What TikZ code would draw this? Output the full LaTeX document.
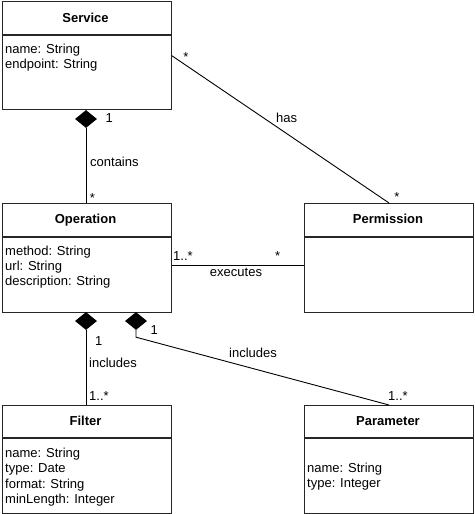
\documentclass[tikz,border=0pt]{standalone}
\usepackage{fontspec}
\setmainfont{Liberation Sans}
\usetikzlibrary{shapes.geometric,calc}
\begin{document}
\begin{tikzpicture}[x=1pt,y=-1pt,
  classbox/.style={draw=black!85, line width=1.1pt, inner sep=0, anchor=north west, minimum width=169pt},
  divline/.style={draw=black!85, line width=1.1pt},
  conn/.style={draw=black, line width=0.9pt},
  agg/.style={diamond, fill=black, draw=none, inner sep=0, minimum width=22pt, minimum height=18pt},
  txt/.style={inner sep=0, font=\fontsize{13}{15}\selectfont},
  ttl/.style={inner sep=0, anchor=base, font=\fontsize{13}{15}\selectfont\bfseries},
  attr/.style={txt, anchor=base west},
  mult/.style={txt, anchor=base west},
  star/.style={txt, anchor=base}]
\useasboundingbox (0,0) rectangle (474,514);

% class boxes
\node[classbox, minimum height=108pt] (service) at (1.5,1) {};
\node[classbox, minimum height=109pt] (operation) at (1.5,203) {};
\node[classbox, minimum height=109pt] (permission) at (304,203) {};
\node[classbox, minimum height=108pt] (filter) at (1.5,405) {};
\node[classbox, minimum height=108pt] (parameter) at (304,405) {};

% dividers
\draw[divline] ($(service.north west)+(0,34)$) -- ($(service.north east)+(0,34)$);
\draw[divline] ($(operation.north west)+(0,34)$) -- ($(operation.north east)+(0,34)$);
\draw[divline] ($(permission.north west)+(0,34)$) -- ($(permission.north east)+(0,34)$);
\draw[divline] ($(filter.north west)+(0,33)$) -- ($(filter.north east)+(0,33)$);
\draw[divline] ($(parameter.north west)+(0,33)$) -- ($(parameter.north east)+(0,33)$);

% titles
\node[ttl] (tService) at (85.5,22.7) {Service};
\node[ttl] (tOperation) at (85.5,223.3) {Operation};
\node[ttl] (tPermission) at (388,223.3) {Permission};
\node[ttl] (tFilter) at (85.5,425) {Filter};
\node[ttl] (tParameter) at (388,425) {Parameter};

% attributes
\node[attr] (aS1) at (5,53) {name: String};
\node[attr] (aS2) at (5,68.5) {endpoint: String};
\node[attr] (aO1) at (5,255) {method: String};
\node[attr] (aO2) at (5,270) {url: String};
\node[attr] (aO3) at (5,285) {description: String};
\node[attr] (aF1) at (5,457) {name: String};
\node[attr] (aF2) at (5,472.5) {type: Date};
\node[attr] (aF3) at (5,488) {format: String};
\node[attr] (aF4) at (5,503.5) {minLength: Integer};
\node[attr] (aP1) at (307,472) {name: String};
\node[attr] (aP2) at (307,487.5) {type: Integer};

% aggregation diamonds
\node[agg] (d1) at (86,119) {};
\node[agg] (d2) at (86,321) {};
\node[agg] (d3) at (136,321) {};

% connectors
\draw[conn] (d1.south) -- (d1.south |- operation.north);
\draw[conn] (service.east) -- (permission.north);
\draw[conn] (operation.east |- 0,265) -- (permission.west |- 0,265);
\draw[conn] (d2.south) -- (d2.south |- filter.north);
\draw[conn] (d3.south) -- ++(0,7) -- (parameter.north);

% labels and multiplicities
\node[mult] (m1) at (105.5,122.7) {1};
\node[mult] (lContains) at (90,166.7) {contains};
\node[star] (m2) at (92.3,202.2) {*};
\node[star] (m3) at (186,61.2) {*};
\node[txt, anchor=base] (lHas) at (286.7,122.7) {has};
\node[star] (m4) at (397,201.2) {*};
\node[mult] (m5) at (173,260) {1..*};
\node[star] (m6) at (277.7,260.5) {*};
\node[txt, anchor=base] (lExecutes) at (236,276) {executes};
\node[mult] (m7) at (95,345.7) {1};
\node[mult] (lIncl1) at (89,367.7) {includes};
\node[mult] (m8) at (89,400.7) {1..*};
\node[mult] (m9) at (150.5,334) {1};
\node[mult] (lIncl2) at (229,357.7) {includes};
\node[mult] (m10) at (388,400.7) {1..*};
\end{tikzpicture}
\end{document}
